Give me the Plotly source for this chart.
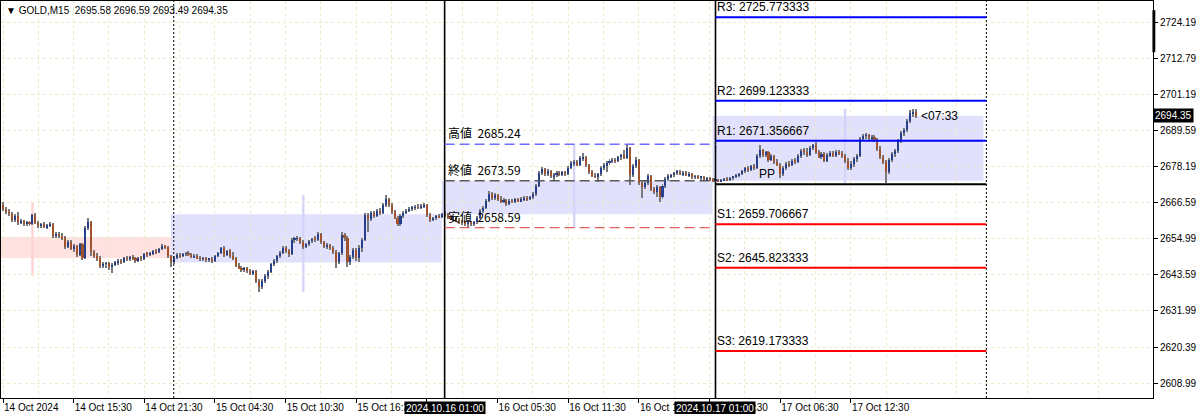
import plotly.graph_objects as go

# ---------------- M15 candles (bar index 0 = 14 Oct 09:30) ----------------
opens = [
 2665.8, 2664.6, 2663.6, 2662.9, 2661.0, 2662.3, 2660.4, 2660.7, 2659.8, 2660.1,
 2659.8, 2662.6, 2660.1, 2659.1, 2659.8, 2658.8, 2659.4, 2659.8, 2655.9, 2656.6,
 2655.9, 2655.3, 2652.4, 2654.0, 2651.8, 2652.7, 2649.9, 2653.4, 2648.9, 2658.5,
 2660.4, 2650.8, 2649.5, 2648.9, 2646.3, 2647.0, 2647.3, 2646.0, 2646.7, 2647.6,
 2647.9, 2647.6, 2648.9, 2648.6, 2649.2, 2648.9, 2647.9, 2648.9, 2648.6, 2650.2,
 2649.9, 2650.5, 2651.1, 2650.8, 2651.8, 2652.7, 2652.4, 2649.5, 2647.6, 2648.9,
 2649.9, 2649.5, 2650.2, 2650.5, 2649.9, 2649.2, 2649.5, 2648.9, 2648.6, 2648.9,
 2648.3, 2648.6, 2647.9, 2649.5, 2650.5, 2652.1, 2649.9, 2651.1, 2649.5, 2648.9,
 2646.3, 2645.7, 2645.1, 2645.7, 2644.7, 2644.1, 2644.7, 2641.6, 2639.6, 2641.6,
 2643.2, 2644.4, 2647.0, 2647.9, 2649.5, 2650.5, 2652.1, 2651.1, 2650.2, 2654.7,
 2655.0, 2655.3, 2654.0, 2652.4, 2653.4, 2654.3, 2655.0, 2654.7, 2656.6, 2654.0,
 2652.7, 2653.1, 2652.1, 2650.8, 2647.6, 2650.5, 2656.3, 2655.3, 2647.6, 2649.2,
 2651.5, 2648.9, 2652.1, 2654.7, 2662.6, 2661.4, 2663.3, 2662.3, 2663.9, 2663.3,
 2665.8, 2667.7, 2665.8, 2663.6, 2661.7, 2659.8, 2662.3, 2663.3, 2663.9, 2664.6,
 2664.9, 2665.2, 2664.9, 2665.5, 2665.8, 2662.6, 2661.0, 2661.7, 2662.3, 2662.0,
 2662.9, 2662.6, 2662.0, 2661.4, 2661.7, 2661.0, 2660.4, 2660.1, 2659.8, 2660.1,
 2659.8, 2660.4, 2661.7, 2663.9, 2664.9, 2667.1, 2669.4, 2668.1, 2669.0, 2667.7,
 2667.1, 2667.4, 2666.2, 2667.1, 2666.8, 2667.7, 2667.1, 2667.7, 2668.1, 2667.7,
 2668.4, 2669.4, 2671.9, 2676.1, 2677.3, 2675.7, 2676.7, 2675.1, 2675.4, 2676.1,
 2675.4, 2676.4, 2675.7, 2677.7, 2679.2, 2679.6, 2678.6, 2680.8, 2681.2, 2678.6,
 2676.4, 2675.1, 2674.8, 2675.7, 2677.7, 2678.6, 2679.2, 2679.9, 2680.2, 2679.9,
 2681.2, 2681.8, 2680.8, 2684.0, 2675.4, 2678.3, 2680.2, 2672.9, 2671.6, 2672.9,
 2675.1, 2670.9, 2670.0, 2671.6, 2668.4, 2671.9, 2674.1, 2675.1, 2675.4, 2676.1,
 2676.4, 2675.7, 2676.1, 2675.4, 2675.7, 2674.8, 2675.1, 2674.5, 2674.8, 2674.1,
 2674.5, 2673.8, 2673.6, 2673.8, 2673.5, 2673.8, 2674.1, 2673.8, 2674.5, 2674.8,
 2675.4, 2675.7, 2676.7, 2677.7, 2677.0, 2678.3, 2677.7, 2681.5, 2683.4, 2681.8,
 2682.8, 2680.2, 2681.5, 2679.6, 2678.6, 2675.7, 2677.7, 2678.9, 2678.6, 2679.9,
 2679.6, 2681.5, 2683.1, 2682.8, 2681.8, 2684.0, 2685.0, 2682.8, 2681.2, 2682.1,
 2679.9, 2681.8, 2682.4, 2681.5, 2682.8, 2682.4, 2681.5, 2679.9, 2677.7, 2678.9,
 2680.5, 2681.5, 2686.9, 2687.9, 2688.2, 2687.2, 2687.6, 2686.6, 2683.7, 2681.2,
 2679.6, 2676.4, 2680.2, 2682.1, 2683.1, 2686.3, 2688.8, 2689.8, 2692.7, 2695.2,
 2695.58]

highs = [
 2666.8, 2665.2, 2664.6, 2663.6, 2662.9, 2663.6, 2661.4, 2661.0, 2660.7, 2660.7,
 2662.9, 2663.3, 2660.7, 2660.1, 2660.4, 2659.8, 2660.4, 2660.1, 2657.2, 2657.2,
 2656.9, 2655.9, 2654.7, 2654.7, 2653.4, 2653.1, 2653.7, 2653.7, 2659.1, 2661.7,
 2660.7, 2651.5, 2650.5, 2649.5, 2647.6, 2647.6, 2647.6, 2647.3, 2647.9, 2648.6,
 2648.6, 2649.2, 2649.5, 2649.5, 2649.9, 2649.2, 2649.2, 2649.5, 2650.5, 2650.8,
 2650.8, 2651.5, 2651.8, 2652.1, 2653.4, 2653.1, 2652.7, 2649.9, 2649.5, 2650.5,
 2650.5, 2650.5, 2650.8, 2651.1, 2650.5, 2650.2, 2650.2, 2649.5, 2649.2, 2649.2,
 2648.9, 2649.2, 2649.9, 2650.8, 2652.4, 2652.7, 2651.5, 2651.8, 2650.8, 2649.2,
 2647.3, 2646.3, 2646.0, 2646.0, 2645.4, 2645.1, 2645.1, 2642.2, 2642.2, 2643.8,
 2645.1, 2647.3, 2648.6, 2649.9, 2651.1, 2652.7, 2652.7, 2651.8, 2655.3, 2655.6,
 2655.9, 2655.6, 2654.7, 2653.7, 2654.7, 2655.3, 2655.9, 2657.2, 2656.9, 2654.3,
 2653.7, 2653.4, 2652.7, 2651.5, 2650.8, 2657.2, 2656.9, 2655.9, 2649.9, 2652.1,
 2652.1, 2653.1, 2655.3, 2663.3, 2663.3, 2663.9, 2663.9, 2664.6, 2664.9, 2666.5,
 2669.0, 2668.1, 2666.5, 2664.2, 2662.3, 2662.9, 2663.9, 2664.6, 2665.2, 2665.5,
 2665.8, 2666.2, 2666.2, 2666.5, 2666.2, 2663.3, 2662.0, 2662.6, 2662.9, 2663.3,
 2663.9, 2663.3, 2662.6, 2662.3, 2662.0, 2661.7, 2661.0, 2660.7, 2660.4, 2660.7,
 2660.7, 2662.3, 2664.6, 2665.5, 2667.7, 2670.3, 2670.0, 2669.7, 2669.4, 2668.7,
 2668.1, 2667.7, 2667.7, 2667.7, 2668.1, 2668.1, 2668.4, 2668.7, 2668.7, 2668.7,
 2670.0, 2672.5, 2676.7, 2678.0, 2677.7, 2677.3, 2677.0, 2676.1, 2676.7, 2676.7,
 2676.7, 2676.7, 2678.3, 2679.9, 2680.2, 2680.2, 2681.5, 2682.4, 2681.5, 2678.9,
 2677.0, 2676.1, 2676.1, 2678.3, 2679.2, 2679.9, 2680.5, 2680.8, 2680.8, 2681.5,
 2682.1, 2683.4, 2685.24, 2684.4, 2678.9, 2681.2, 2680.5, 2673.8, 2673.5, 2675.7,
 2675.4, 2671.6, 2672.2, 2671.9, 2672.5, 2674.8, 2675.7, 2675.7, 2676.4, 2677.0,
 2677.0, 2676.7, 2676.7, 2676.4, 2676.1, 2675.4, 2675.4, 2675.1, 2675.1, 2674.8,
 2674.8, 2674.5, 2674.5, 2674.1, 2674.1, 2674.5, 2674.8, 2674.8, 2675.1, 2675.7,
 2676.1, 2677.0, 2678.0, 2678.3, 2678.6, 2678.9, 2682.1, 2685.0, 2683.7, 2683.1,
 2683.1, 2682.1, 2681.8, 2680.5, 2679.2, 2678.3, 2679.6, 2679.9, 2680.5, 2680.8,
 2682.1, 2683.7, 2684.0, 2684.0, 2684.7, 2685.3, 2686.0, 2683.4, 2682.8, 2682.8,
 2682.4, 2683.1, 2683.1, 2683.4, 2683.4, 2683.1, 2682.1, 2680.8, 2679.9, 2681.2,
 2682.1, 2687.6, 2688.5, 2688.8, 2688.5, 2688.2, 2688.2, 2687.2, 2684.7, 2681.8,
 2680.2, 2680.8, 2682.8, 2683.7, 2686.9, 2689.5, 2690.4, 2693.3, 2696.2, 2696.5,
 2696.59]

lows = [
 2663.9, 2662.9, 2662.3, 2660.4, 2660.4, 2659.4, 2659.8, 2659.1, 2659.1, 2659.1,
 2659.4, 2659.8, 2658.5, 2658.5, 2658.5, 2658.2, 2658.8, 2655.3, 2655.3, 2655.3,
 2654.7, 2651.8, 2652.1, 2651.5, 2650.8, 2649.2, 2649.5, 2648.3, 2648.6, 2657.8,
 2649.5, 2648.9, 2647.9, 2645.7, 2645.7, 2645.7, 2645.1, 2644.1, 2646.3, 2646.7,
 2647.0, 2647.3, 2647.9, 2647.9, 2648.3, 2647.3, 2647.6, 2647.9, 2648.3, 2649.2,
 2649.5, 2649.9, 2650.2, 2650.5, 2651.5, 2651.8, 2648.9, 2646.0, 2647.0, 2648.6,
 2648.9, 2649.2, 2649.5, 2649.5, 2648.9, 2648.9, 2648.6, 2647.9, 2647.9, 2647.6,
 2647.6, 2647.3, 2647.6, 2649.2, 2650.2, 2649.2, 2649.5, 2648.9, 2648.3, 2646.0,
 2645.4, 2644.4, 2644.4, 2644.1, 2643.5, 2643.5, 2640.9, 2638.0, 2639.0, 2640.9,
 2642.2, 2644.1, 2646.3, 2647.3, 2648.9, 2650.2, 2650.5, 2649.2, 2649.9, 2653.7,
 2654.3, 2653.4, 2651.8, 2652.1, 2652.7, 2653.7, 2654.0, 2654.3, 2653.4, 2652.1,
 2651.8, 2651.5, 2650.2, 2645.7, 2647.0, 2649.9, 2654.3, 2646.0, 2646.7, 2648.6,
 2647.9, 2647.6, 2650.8, 2654.3, 2657.2, 2660.7, 2661.7, 2662.0, 2662.6, 2662.9,
 2665.2, 2665.2, 2662.9, 2661.4, 2659.1, 2659.1, 2661.7, 2662.9, 2663.6, 2663.9,
 2664.2, 2664.6, 2664.6, 2664.9, 2662.0, 2660.4, 2660.7, 2661.0, 2661.7, 2661.7,
 2662.0, 2661.4, 2661.0, 2660.7, 2660.4, 2659.8, 2659.4, 2659.1, 2658.59, 2659.1,
 2659.1, 2659.8, 2661.4, 2663.3, 2664.6, 2666.8, 2667.4, 2667.4, 2667.1, 2666.5,
 2666.5, 2665.5, 2665.8, 2666.5, 2666.5, 2666.8, 2666.8, 2667.1, 2667.1, 2667.4,
 2667.7, 2668.7, 2671.6, 2675.4, 2675.1, 2675.1, 2674.5, 2673.8, 2674.8, 2675.1,
 2675.1, 2675.1, 2675.4, 2677.3, 2678.3, 2678.3, 2678.3, 2679.9, 2678.0, 2675.7,
 2674.8, 2674.5, 2673.2, 2675.1, 2677.0, 2676.4, 2678.6, 2679.2, 2679.2, 2679.6,
 2680.2, 2680.5, 2680.5, 2672.2, 2674.8, 2677.7, 2672.2, 2668.1, 2670.9, 2672.2,
 2670.3, 2669.4, 2668.4, 2666.8, 2667.7, 2671.3, 2673.5, 2674.5, 2674.8, 2675.4,
 2675.4, 2675.1, 2675.1, 2674.8, 2674.1, 2674.1, 2674.1, 2673.8, 2673.8, 2673.5,
 2673.5, 2673.2, 2673.2, 2673.2, 2673.2, 2673.5, 2673.5, 2673.5, 2673.8, 2674.5,
 2674.8, 2675.4, 2676.1, 2676.4, 2676.7, 2677.0, 2677.3, 2680.8, 2681.2, 2681.2,
 2679.6, 2679.9, 2678.9, 2678.3, 2674.5, 2675.1, 2677.0, 2678.0, 2678.3, 2678.9,
 2679.2, 2680.8, 2681.8, 2681.2, 2681.5, 2683.4, 2682.1, 2680.8, 2680.5, 2679.6,
 2679.6, 2681.2, 2681.2, 2681.2, 2681.8, 2680.8, 2679.2, 2677.0, 2677.0, 2678.0,
 2679.6, 2681.2, 2686.3, 2686.9, 2686.6, 2686.6, 2686.0, 2683.1, 2680.5, 2678.9,
 2672.9, 2675.7, 2679.6, 2681.2, 2682.4, 2685.6, 2687.9, 2689.2, 2692.0, 2693.9,
 2693.49]

closes = [
 2664.6, 2663.6, 2662.9, 2661.0, 2662.3, 2660.4, 2660.7, 2659.8, 2660.1, 2659.8,
 2662.6, 2660.1, 2659.1, 2659.8, 2658.8, 2659.4, 2659.8, 2655.9, 2656.6, 2655.9,
 2655.3, 2652.4, 2654.0, 2651.8, 2652.7, 2649.9, 2653.4, 2648.9, 2658.5, 2660.4,
 2650.8, 2649.5, 2648.9, 2646.3, 2647.0, 2647.3, 2646.0, 2646.7, 2647.6, 2647.9,
 2647.6, 2648.9, 2648.6, 2649.2, 2648.9, 2647.9, 2648.9, 2648.6, 2650.2, 2649.9,
 2650.5, 2651.1, 2650.8, 2651.8, 2652.7, 2652.4, 2649.5, 2647.6, 2648.9, 2649.9,
 2649.5, 2650.2, 2650.5, 2649.9, 2649.2, 2649.5, 2648.9, 2648.6, 2648.9, 2648.3,
 2648.6, 2647.9, 2649.5, 2650.5, 2652.1, 2649.9, 2651.1, 2649.5, 2648.9, 2646.3,
 2645.7, 2645.1, 2645.7, 2644.7, 2644.1, 2644.7, 2641.6, 2639.6, 2641.6, 2643.2,
 2644.4, 2647.0, 2647.9, 2649.5, 2650.5, 2652.1, 2651.1, 2650.2, 2654.7, 2655.0,
 2655.3, 2654.0, 2652.4, 2653.4, 2654.3, 2655.0, 2654.7, 2656.6, 2654.0, 2652.7,
 2653.1, 2652.1, 2650.8, 2647.6, 2650.5, 2656.3, 2655.3, 2647.6, 2649.2, 2651.5,
 2648.9, 2652.1, 2654.7, 2662.6, 2661.4, 2663.3, 2662.3, 2663.9, 2663.3, 2665.8,
 2667.7, 2665.8, 2663.6, 2661.7, 2659.8, 2662.3, 2663.3, 2663.9, 2664.6, 2664.9,
 2665.2, 2664.9, 2665.5, 2665.8, 2662.6, 2661.0, 2661.7, 2662.3, 2662.0, 2662.9,
 2662.6, 2662.0, 2661.4, 2661.7, 2661.0, 2660.4, 2660.1, 2659.8, 2660.1, 2659.8,
 2660.4, 2661.7, 2663.9, 2664.9, 2667.1, 2669.4, 2668.1, 2669.0, 2667.7, 2667.1,
 2667.4, 2666.2, 2667.1, 2666.8, 2667.7, 2667.1, 2667.7, 2668.1, 2667.7, 2668.4,
 2669.4, 2671.9, 2676.1, 2677.3, 2675.7, 2676.7, 2675.1, 2675.4, 2676.1, 2675.4,
 2676.4, 2675.7, 2677.7, 2679.2, 2679.6, 2678.6, 2680.8, 2681.2, 2678.6, 2676.4,
 2675.1, 2674.8, 2675.7, 2677.7, 2678.6, 2679.2, 2679.9, 2680.2, 2679.9, 2681.2,
 2681.8, 2680.8, 2684.0, 2675.4, 2678.3, 2680.2, 2672.9, 2671.6, 2672.9, 2675.1,
 2670.9, 2670.0, 2671.6, 2668.4, 2671.9, 2674.1, 2675.1, 2675.4, 2676.1, 2676.4,
 2675.7, 2676.1, 2675.4, 2675.7, 2674.8, 2675.1, 2674.5, 2674.8, 2674.1, 2674.5,
 2673.8, 2673.59, 2673.8, 2673.5, 2673.8, 2674.1, 2673.8, 2674.5, 2674.8, 2675.4,
 2675.7, 2676.7, 2677.7, 2677.0, 2678.3, 2677.7, 2681.5, 2683.4, 2681.8, 2682.8,
 2680.2, 2681.5, 2679.6, 2678.6, 2675.7, 2677.7, 2678.9, 2678.6, 2679.9, 2679.6,
 2681.5, 2683.1, 2682.8, 2681.8, 2684.0, 2685.0, 2682.8, 2681.2, 2682.1, 2679.9,
 2681.8, 2682.4, 2681.5, 2682.8, 2682.4, 2681.5, 2679.9, 2677.7, 2678.9, 2680.5,
 2681.5, 2686.9, 2687.9, 2688.2, 2687.2, 2687.6, 2686.6, 2683.7, 2681.2, 2679.6,
 2676.4, 2680.2, 2682.1, 2683.1, 2686.3, 2688.8, 2689.8, 2692.7, 2695.2, 2695.6,
 2694.35]

# x-axis labels (every 24 bars)
tick_bars = [0, 24, 48, 72, 96, 120, 144, 168, 192, 216, 240, 264, 288]
tick_text = ["14 Oct 2024", "14 Oct 15:30", "14 Oct 21:30", "15 Oct 04:30",
             "15 Oct 10:30", "15 Oct 16:30", "15 Oct 22:30", "16 Oct 05:30",
             "16 Oct 11:30", "16 Oct 17:30", "16 Oct 23:30", "17 Oct 06:30",
             "17 Oct 12:30"]
# y-axis labels
price_ticks = [2608.99, 2620.39, 2631.99, 2643.59, 2654.99, 2666.59,
               2678.19, 2689.59, 2701.19, 2712.79, 2724.19]

# ---------------- D1 candles (background overlay) ----------------
day_first_bar = [-34, 58, 150, 242, 334]      # 01:00 bar of each trading day
d_open = [2655.6, 2647.5, 2662.9, 2673.6]
d_high = [2666.8, 2669.0, 2685.24, 2696.59]
d_low = [2643.2, 2638.0, 2658.59, 2672.9]
d_close = [2648.9, 2662.9, 2673.59, 2694.35]

# previous day (16 Oct) levels
prev_names = ["高値", "終値", "安値"]
prev_values = [2685.24, 2673.59, 2658.59]
prev_colors = ["#6f6fff", "#5a5a5a", "#e06060"]

# pivot levels for 17 Oct
pivot_text = ["R3: 2725.773333", "R2: 2699.123333", "R1: 2671.356667",
              "S1: 2659.706667", "S2: 2645.823333", "S3: 2619.173333"]
pivot_values = [2725.773333, 2699.123333, 2686.356667,
                2659.706667, 2645.823333, 2619.173333]
pivot_colors = ["#0000ff", "#0000ff", "#0000ff", "#ff0000", "#ff0000", "#ff0000"]
pp_value = 2672.473333

n = len(closes)
idx = list(range(n))
up_col, dn_col, wick_col = "#27408b", "#a0522d", "#7a7a7a"

body_base = [min(o, c) for o, c in zip(opens, closes)]
body_h = [max(abs(c - o), 0.25) for o, c in zip(opens, closes)]
body_col = [up_col if c >= o else dn_col for o, c in zip(opens, closes)]

fig = go.Figure()
fig.add_trace(go.Bar(x=idx, base=lows, y=[h - l for h, l in zip(highs, lows)],
                     width=0.34, marker=dict(color=wick_col, line=dict(width=0)),
                     hoverinfo="skip", showlegend=False))
fig.add_trace(go.Bar(x=idx, base=body_base, y=body_h, width=0.7,
                     marker=dict(color=body_col, line=dict(width=0)),
                     hoverinfo="skip", showlegend=False))

shapes = []
# daily candle overlay
for k in range(len(d_open)):
    bull = d_close[k] >= d_open[k]
    fill = "#e1e1fd" if bull else "#ffe1e1"
    wfill = "#d4d4f8" if bull else "#ffd2d2"
    x0 = day_first_bar[k] - 1
    x1 = day_first_bar[k + 1] - 1
    shapes.append(dict(type="rect", xref="x", yref="y", x0=x0, x1=x1,
                       y0=min(d_open[k], d_close[k]), y1=max(d_open[k], d_close[k]),
                       fillcolor=fill, line=dict(width=0), layer="below"))
    mid = day_first_bar[k] + 44
    shapes.append(dict(type="rect", xref="x", yref="y", x0=mid - 0.4, x1=mid + 0.4,
                       y0=d_low[k], y1=d_high[k], fillcolor=wfill,
                       line=dict(width=0), layer="below"))

# period separators (dotted) and day markers (solid)
for b in [day_first_bar[1], day_first_bar[4]]:
    shapes.append(dict(type="line", xref="x", yref="paper", x0=b, x1=b, y0=0, y1=1,
                       line=dict(color="#000000", width=1, dash="2px,2px")))
for b in [day_first_bar[2], day_first_bar[3]]:
    shapes.append(dict(type="line", xref="x", yref="paper", x0=b, x1=b, y0=0, y1=1,
                       line=dict(color="#000000", width=1.6)))

annotations = []
# previous-day high / close / low
for name, v, c in zip(prev_names, prev_values, prev_colors):
    shapes.append(dict(type="line", xref="x", yref="y", x0=day_first_bar[2],
                       x1=day_first_bar[3], y0=v, y1=v,
                       line=dict(color=c, width=1.3, dash="10px,5px")))
    annotations.append(dict(x=day_first_bar[2], y=v, xref="x", yref="y",
                            text=f"{name}\u00a0\u00a0{v:.2f}", showarrow=False,
                            xanchor="left", yanchor="bottom", xshift=1, yshift=1,
                            font=dict(family="Noto Sans CJK JP", size=12, color="#000000")))

# pivot levels
for t, v, c in zip(pivot_text, pivot_values, pivot_colors):
    shapes.append(dict(type="line", xref="x", yref="y", x0=day_first_bar[3],
                       x1=day_first_bar[4], y0=v, y1=v, line=dict(color=c, width=2)))
    annotations.append(dict(x=day_first_bar[3], y=v, xref="x", yref="y", text=t,
                            showarrow=False, xanchor="left", yanchor="bottom",
                            xshift=0, yshift=1,
                            font=dict(family="Liberation Sans", size=12, color="#000000")))
shapes.append(dict(type="line", xref="x", yref="y", x0=day_first_bar[3],
                   x1=day_first_bar[4], y0=pp_value, y1=pp_value,
                   line=dict(color="#000000", width=2)))
annotations.append(dict(x=day_first_bar[3] + 14, y=pp_value, xref="x", yref="y", text="PP",
                        showarrow=False, xanchor="left", yanchor="bottom", yshift=1,
                        font=dict(family="Liberation Sans", size=12, color="#000000")))

# timer label next to the last bar
annotations.append(dict(x=n, y=closes[-1], xref="x", yref="y", text="<07:33",
                        showarrow=False, xanchor="left", yanchor="middle",
                        font=dict(family="Liberation Sans", size=12, color="#000000")))

# header
annotations.append(dict(x=0, y=1, xref="paper", yref="paper",
                        text="\u25bc GOLD,M15\u00a0\u00a0" + f"{opens[-1]:.2f} {highs[-1]:.2f} {lows[-1]:.2f} {closes[-1]:.2f}",
                        showarrow=False, xanchor="left", yanchor="top", xshift=3, yshift=-2,
                        font=dict(family="Liberation Sans", size=10, color="#000000")))

# current price box on price scale
annotations.append(dict(x=1, y=closes[-1], xref="paper", yref="y", text=f"{closes[-1]:.2f}",
                        showarrow=False, xanchor="left", yanchor="middle", xshift=0,
                        bgcolor="#000000", borderpad=1,
                        font=dict(family="Liberation Sans", size=10, color="#ffffff")))

# day-start time boxes on time scale
for b, t in [(day_first_bar[2], "2024.10.16 01:00"), (day_first_bar[3], "2024.10.17 01:00")]:
    annotations.append(dict(x=b, y=0, xref="x", yref="paper", text=t, showarrow=False,
                            xanchor="center", yanchor="top", yshift=-3,
                            bgcolor="#000000", borderpad=1,
                            font=dict(family="Liberation Sans", size=10, color="#ffffff")))

# chart-shift marker on the price scale
shapes.append(dict(type="rect", xref="paper", yref="paper", x0=0.9995, x1=1.002,
                   y0=0.871, y1=0.977, fillcolor="#000000", line=dict(width=0)))

grid_col = "#ececcc"
fig.update_layout(
    width=1200, height=414,
    margin=dict(l=1, r=47, t=1, b=16, autoexpand=False),
    paper_bgcolor="#ffffff", plot_bgcolor="#ffffff",
    barmode="overlay", bargap=0, showlegend=False, hovermode=False,
    shapes=shapes, annotations=annotations,
    xaxis=dict(range=[-0.679, 390.6], tickmode="array", tickvals=tick_bars,
               ticktext=tick_text, ticklabelposition="outside right",
               ticks="outside", ticklen=4, tickcolor="#000000",
               tickfont=dict(family="Liberation Sans", size=10, color="#000000"),
               showgrid=True, gridcolor=grid_col, griddash="dot", gridwidth=1,
               minor=dict(tickmode="linear", tick0=12, dtick=24, showgrid=True,
                          gridcolor=grid_col, griddash="dot", ticks=""),
               showline=True, linecolor="#000000", linewidth=1, mirror=True,
               zeroline=False, fixedrange=True, automargin=False),
    yaxis=dict(range=[2604.2, 2731.0], side="right", tickmode="array",
               tickvals=price_ticks, ticktext=[f"{v:.2f}" for v in price_ticks],
               ticks="outside", ticklen=4, tickcolor="#000000",
               tickfont=dict(family="Liberation Sans", size=10, color="#000000"),
               showgrid=True, gridcolor=grid_col, griddash="dot", gridwidth=1,
               showline=True, linecolor="#000000", linewidth=1, mirror=True,
               zeroline=False, fixedrange=True, automargin=False),
)

fig.write_html("out.html", config={"displayModeBar": False},
               post_script="document.body.style.margin='0px';document.body.style.overflow='hidden';")
